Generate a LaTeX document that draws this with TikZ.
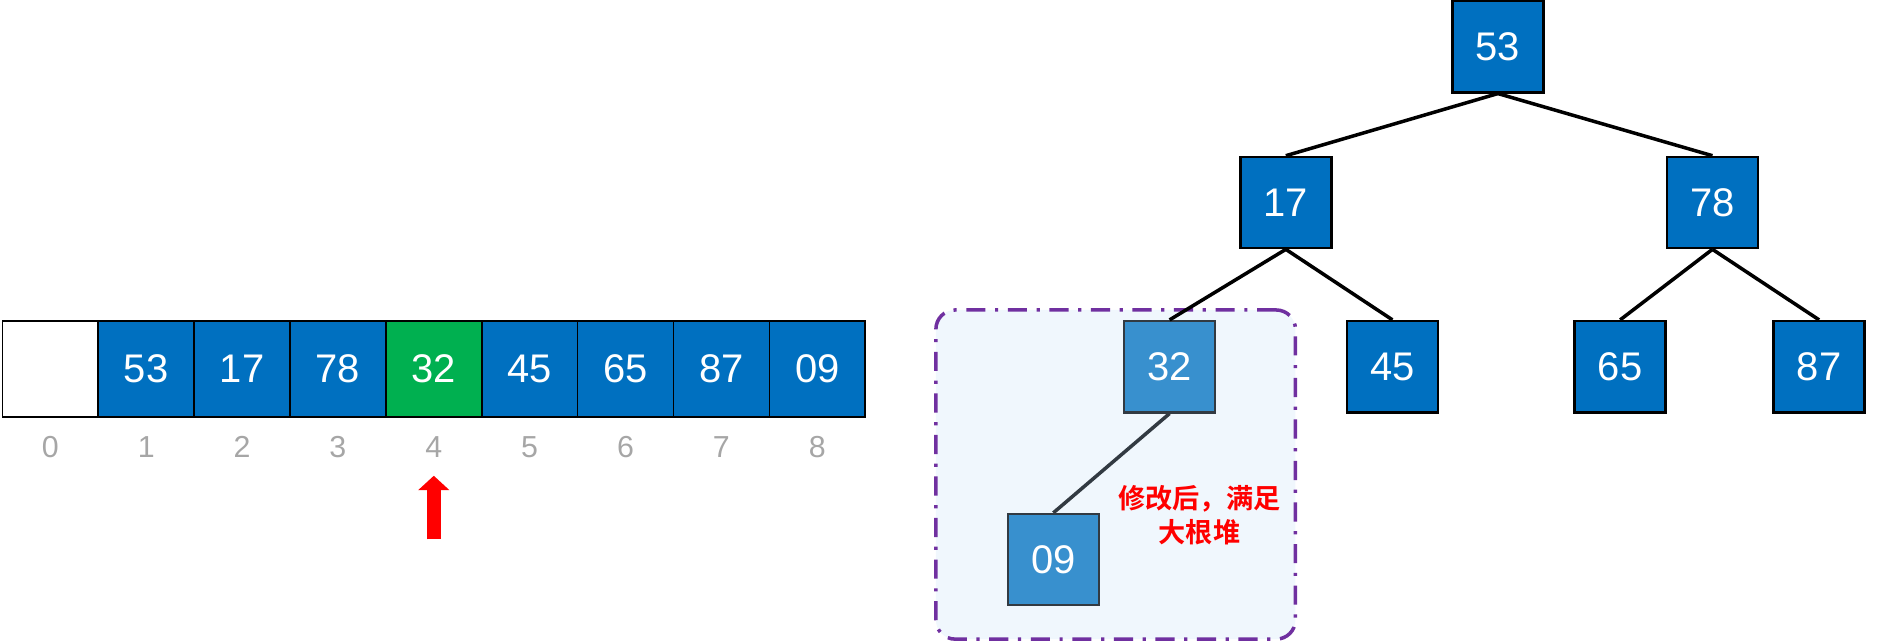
\documentclass[tikz,border=0pt]{standalone}
\usepackage{fontspec}
\setmainfont{Liberation Sans}
\newfontfamily\cjk{Noto Sans CJK SC}[BoldFont={Noto Sans CJK SC Bold}]
\usetikzlibrary{arrows.meta}
\definecolor{cblue}{HTML}{0070C0}
\definecolor{cgreen}{HTML}{00B050}
\definecolor{lblue}{HTML}{3890CE}
\definecolor{dgray}{HTML}{323A42}
\definecolor{purp}{HTML}{7030A0}
\definecolor{bgb}{HTML}{F0F7FD}
\begin{document}
\begin{tikzpicture}[x=0.75pt,y=-0.75pt,
 cell/.style={draw=black,line width=1pt,minimum width=60pt,minimum height=60pt,inner sep=0pt,fill=cblue,text=white,font=\fontsize{25}{28}\selectfont},
 tnode/.style={cell,minimum width=57pt,minimum height=57pt,line width=1.6pt},
 idx/.style={text=black!35,font=\fontsize{19}{22}\selectfont},
 edge/.style={line width=2.2pt}]
\useasboundingbox (0,0) rectangle (1568,536);
% array
\foreach \i/\v in {0/{},1/53,2/17,3/78,4/32,5/45,6/65,7/87,8/09}{
  \node[cell] (c\i) at ({42+80*\i},308) {\v};
  \node[idx] (i\i) at ({42+80*\i},373) {\i};
}
\node[cell,fill=white] at (c0) {};
\node[cell,fill=cgreen] at (c4) {32};
\coordinate (a1) at (362,450);
\coordinate (a2) at (362,397);
\draw[red,line width=9pt,-{Triangle[width=19pt,length=9pt]}] (a1) -- (a2);
% highlight region
\node[draw=purp,fill=bgb,line width=2.2pt,dash pattern=on 12pt off 6pt on 2pt off 6pt,rounded corners=12pt,minimum width=225pt,minimum height=206pt] (reg) at (931,396) {};
% tree
\node[tnode] (n53) at (1250,39) {53};
\node[tnode] (n17) at (1073,169) {17};
\node[tnode] (n78) at (1429,169) {78};
\node[tnode,fill=lblue,draw=dgray] (n32) at (976,306) {32};
\node[tnode] (n45) at (1162,306) {45};
\node[tnode] (n65) at (1352,306) {65};
\node[tnode] (n87) at (1518,306) {87};
\node[tnode,fill=lblue,draw=dgray] (n09) at (879,467) {09};
\draw[edge] (n53.south) -- (n17.north);
\draw[edge] (n53.south) -- (n78.north);
\draw[edge] (n17.south) -- (n32.north);
\draw[edge] (n17.south) -- (n45.north);
\draw[edge] (n78.south) -- (n65.north);
\draw[edge] (n78.south) -- (n87.north);
\draw[edge,draw=dgray] (n32.south) -- (n09.north);
\node[text=red,align=center,font=\cjk\bfseries\fontsize{17}{21}\selectfont] (lbl) at (1001,430) {修改后，满足\\大根堆};
\end{tikzpicture}
\end{document}
